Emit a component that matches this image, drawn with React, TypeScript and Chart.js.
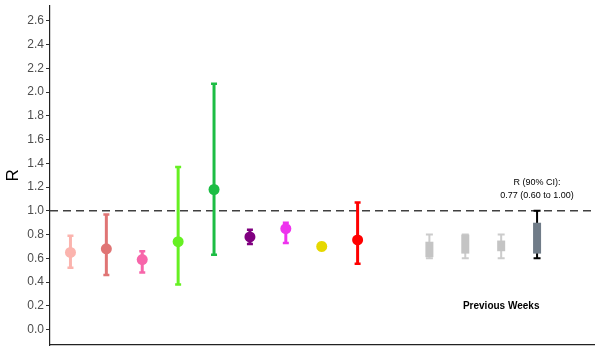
import React, { useEffect, useRef } from "react";
import { Chart, registerables } from "chart.js";

Chart.register(...registerables);

// Current weeks: point estimates with 90% CI
const weekX = [0, 1, 2, 3, 4, 5, 6, 7, 8];
const rMean = [0.65, 0.68, 0.59, 0.74, 1.18, 0.78, 0.85, 0.70, 0.755];
const rLow = [0.52, 0.46, 0.48, 0.38, 0.63, 0.72, 0.73, 0.67, 0.555];
const rHigh = [0.79, 0.97, 0.66, 1.37, 2.07, 0.84, 0.90, 0.73, 1.07];
const weekColors = ["#FBB4AE", "#E07575", "#F766AA", "#66F022", "#1DBD44", "#800080", "#EE33EE", "#E6D800", "#FF0000"];

// Previous weeks: box (50% CI) + whisker (90% CI)
const prevX = [10, 11, 12, 13];
const prevLow = [0.60, 0.60, 0.60, 0.60];
const prevQ1 = [0.61, 0.64, 0.66, 0.64];
const prevQ3 = [0.74, 0.80, 0.75, 0.90];
const prevHigh = [0.80, 0.80, 0.80, 1.00];
const prevBoxColors = ["#C4C4C4", "#C4C4C4", "#C4C4C4", "#707C88"];
const prevWhiskerColors = ["#CCCCCC", "#CCCCCC", "#CCCCCC", "#000000"];

const yTicks = [0, 0.2, 0.4, 0.6, 0.8, 1.0, 1.2, 1.4, 1.6, 1.8, 2.0, 2.2, 2.4, 2.6];
const refLine = 1.0;
const annotationLines = ["R (90% CI):", "0.77 (0.60 to 1.00)"];
const annotationPos = { x: 13, y: 1.13 };
const groupLabel = "Previous Weeks";
const groupLabelPos = { x: 12, y: 0.2 };

const FONT = "'Liberation Sans', Arial, Helvetica, sans-serif";

const errorPlugin = {
  id: "errorPlugin",
  beforeDatasetsDraw(chart: any) {
    const ctx = chart.ctx;
    const xs = chart.scales.x;
    const ys = chart.scales.y;
    const area = chart.chartArea;
    ctx.save();
    // reference dashed line
    ctx.strokeStyle = "#404040";
    ctx.lineWidth = 1.5;
    ctx.setLineDash([8, 5]);
    const yr = ys.getPixelForValue(refLine);
    ctx.beginPath();
    ctx.moveTo(area.left, yr);
    ctx.lineTo(area.right, yr);
    ctx.stroke();
    ctx.setLineDash([]);

    // previous weeks boxes and whiskers
    for (let i = 0; i < prevX.length; i++) {
      const px = xs.getPixelForValue(prevX[i]);
      const yl = ys.getPixelForValue(prevLow[i]);
      const yh = ys.getPixelForValue(prevHigh[i]);
      ctx.strokeStyle = prevWhiskerColors[i];
      ctx.lineWidth = 2;
      ctx.beginPath();
      ctx.moveTo(px, yl);
      ctx.lineTo(px, yh);
      ctx.moveTo(px - 3.5, yl);
      ctx.lineTo(px + 3.5, yl);
      ctx.moveTo(px - 3.5, yh);
      ctx.lineTo(px + 3.5, yh);
      ctx.stroke();
      const y1 = ys.getPixelForValue(prevQ1[i]);
      const y3 = ys.getPixelForValue(prevQ3[i]);
      ctx.fillStyle = prevBoxColors[i];
      ctx.fillRect(px - 4, y3, 8, y1 - y3);
    }

    // current weeks error bars
    for (let i = 0; i < weekX.length; i++) {
      const px = xs.getPixelForValue(weekX[i]);
      const yl = ys.getPixelForValue(rLow[i]);
      const yh = ys.getPixelForValue(rHigh[i]);
      ctx.strokeStyle = weekColors[i];
      ctx.lineWidth = 3;
      ctx.beginPath();
      ctx.moveTo(px, yl);
      ctx.lineTo(px, yh);
      ctx.stroke();
      ctx.lineWidth = 2.5;
      ctx.beginPath();
      ctx.moveTo(px - 3, yl);
      ctx.lineTo(px + 3, yl);
      ctx.moveTo(px - 3, yh);
      ctx.lineTo(px + 3, yh);
      ctx.stroke();
    }
    ctx.restore();
  },
  afterDatasetsDraw(chart: any) {
    const ctx = chart.ctx;
    const xs = chart.scales.x;
    const ys = chart.scales.y;
    ctx.save();
    ctx.fillStyle = "#000000";
    ctx.textAlign = "center";
    ctx.textBaseline = "middle";
    ctx.font = `9px ${FONT}`;
    const ax = xs.getPixelForValue(annotationPos.x);
    const ay = ys.getPixelForValue(annotationPos.y);
    annotationLines.forEach((t, k) => ctx.fillText(t, ax, ay - 13 + k * 13));
    ctx.font = `bold 10px ${FONT}`;
    ctx.fillText(groupLabel, xs.getPixelForValue(groupLabelPos.x), ys.getPixelForValue(groupLabelPos.y));
    ctx.restore();
  },
};

export default function App() {
  const ref = useRef<HTMLCanvasElement>(null);
  useEffect(() => {
    if (!ref.current) return;
    const chart = new Chart(ref.current, {
      type: "scatter",
      data: {
        datasets: [
          {
            data: weekX.map((x, i) => ({ x, y: rMean[i] })),
            pointBackgroundColor: weekColors,
            pointBorderColor: weekColors,
            pointRadius: 5.5,
            pointBorderWidth: 0,
          },
        ],
      },
      plugins: [errorPlugin],
      options: {
        animation: false,
        responsive: false,
        layout: { padding: { top: 5, right: 4, bottom: 7, left: 0 } },
        plugins: { legend: { display: false }, tooltip: { enabled: false } },
        scales: {
          x: {
            type: "linear",
            min: -0.57,
            max: 14.6,
            ticks: { display: false },
            grid: { display: false },
            border: { display: true, color: "#222", width: 1.2 },
            afterFit: (s: any) => {
              s.height = 0;
              s.paddingLeft = 0;
              s.paddingRight = 0;
            },
          },
          y: {
            type: "linear",
            min: -0.13,
            max: 2.73,
            afterBuildTicks: (s: any) => {
              s.ticks = yTicks.map((v) => ({ value: v }));
            },
            afterFit: (s: any) => {
              s.width = 50;
              s.paddingTop = 0;
              s.paddingBottom = 0;
            },
            ticks: {
              callback: (v: any) => Number(v).toFixed(1),
              color: "#4D4D4D",
              font: { family: FONT, size: 12 },
              padding: 2,
            },
            grid: { display: true, drawOnChartArea: false, drawTicks: true, tickLength: 4, color: "#333" },
            border: { display: true, color: "#222", width: 1.2 },
            title: { display: true, text: "R", color: "#000", font: { family: FONT, size: 17 }, padding: { top: 3, bottom: 0 } },
          },
        },
      },
    });
    return () => chart.destroy();
  }, []);
  return (
    <div style={{ position: "absolute", left: 0, top: 0, width: 600, height: 352, background: "#fff" }}>
      <canvas ref={ref} width={600} height={352} style={{ display: "block" }} />
    </div>
  );
}
